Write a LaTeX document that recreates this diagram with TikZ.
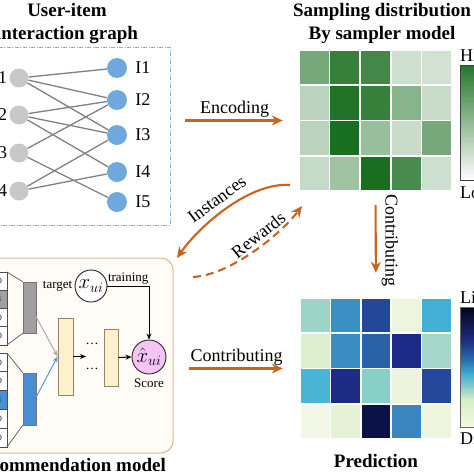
\documentclass[tikz,border=0pt]{standalone}
\usepackage{fontspec}
\setmainfont{Liberation Serif}
\usetikzlibrary{arrows.meta,positioning}
\definecolor{flow}{HTML}{C8641E}
\definecolor{usergray}{HTML}{C8C8C8}
\definecolor{itemblue}{HTML}{6FA8DC}
\definecolor{linkgray}{HTML}{808080}
\definecolor{framebl}{HTML}{8AAED0}
\definecolor{recline}{HTML}{E8B48C}
\definecolor{recfill}{HTML}{FFFCF8}
\definecolor{heatgreen}{HTML}{1A6E20}
\definecolor{layerfill}{HTML}{FDF0CD}
\definecolor{layerline}{HTML}{9A8460}
\definecolor{embgray}{HTML}{A0A0A0}
\definecolor{embblue}{HTML}{4A8FD6}
\definecolor{arrblue}{HTML}{5B9BD5}
\definecolor{scorepink}{HTML}{F5C4F5}
\definecolor{cbA}{HTML}{03061A}
\definecolor{cbB}{HTML}{1E2A80}
\definecolor{cbC}{HTML}{2570B0}
\definecolor{cbD}{HTML}{40B0D0}
\definecolor{cbE}{HTML}{D8EEC4}
\definecolor{cbF}{HTML}{F2F8E2}
\tikzset{
    title/.style={font=\bfseries\fontsize{19}{23}\selectfont, align=center, inner sep=1pt},
    lbl/.style={font=\fontsize{18}{20}\selectfont, inner sep=2pt},
    note/.style={font=\fontsize{13}{15}\selectfont, inner sep=1pt},
    digit/.style={font=\fontsize{8}{9}\selectfont, inner sep=0pt},
    user/.style={circle, fill=usergray, minimum size=19pt, inner sep=0pt},
    item/.style={circle, fill=itemblue, minimum size=20pt, inner sep=0pt},
    link/.style={draw=linkgray, line width=1.3pt},
    arrow/.style={-{Stealth[length=11pt,width=10pt]}, draw=flow, line width=2.1pt},
    thinarrow/.style={-{Stealth[length=6pt,width=5pt]}, line width=1pt},
    layer/.style={rectangle, draw=layerline, fill=layerfill, line width=0.8pt, inner sep=0pt},
    cell/.style={draw=black!70, line width=0.7pt},
    emb/.style={rectangle, draw=black!55, minimum width=13pt, inner sep=0pt},
    var/.style={circle, draw=black!85, line width=0.9pt, inner sep=0pt, font=\fontsize{20}{22}\selectfont}
}

\begin{document}
\begin{tikzpicture}[x=1pt, y=-1pt]
    \useasboundingbox (0,0) rectangle (474,474);

    % user-item graph
    \node[title] at (67,23.5) {User-item\\interaction graph};
    \node[draw=framebl, line width=0.8pt, dash pattern=on 4pt off 1.5pt on 1pt off 1.5pt,
        minimum width=175pt, minimum height=178pt] (graph) at (82.5,136) {};
    \foreach \n/\y in {1/78,2/115,3/153,4/191}{
        \node[user] (u\n) at (19,\y) {};
        \node[lbl, left=0pt of u\n] {U\n};
    }
    \foreach \n/\y in {1/68,2/100,3/135,4/172,5/202}{
        \node[item] (i\n) at (117,\y) {};
        \node[lbl, right=6pt of i\n] {I\n};
    }
    \foreach \u/\i in {1/1,1/2,1/3,2/2,2/3,2/4,3/2,3/5,4/3,4/4}
        \draw[link] (u\u) -- (i\i);

    % sampler heatmap
    \node[title] at (382,23.5) {Sampling distribution\\By sampler model};
    \node[minimum width=153pt, minimum height=141pt, inner sep=0pt] (samp) at (375.5,120.5) {};
    \foreach \v [count=\k from 0] in {60,88,82,22,20, 30,97,88,52,24, 30,100,45,24,60, 25,42,100,80,22}{
        \pgfmathtruncatemacro{\r}{int(\k/5)}
        \pgfmathtruncatemacro{\c}{\k-5*\r}
        \fill[heatgreen!\v!white] (299+30.6*\c+0.8, 50+35.25*\r+0.8) rectangle ++(29,33.65);
    }
    \shade[top color=heatgreen!95, bottom color=white] (460,65) rectangle (480,180);
    \draw[black!75, line width=0.9pt] (460,65) rectangle (480,180);
    \node[lbl, anchor=base west, inner sep=0pt] at (460,61) {High};
    \node[lbl, anchor=base west, inner sep=0pt] at (460,198) {Low};

    \draw[arrow, shorten <=15pt, shorten >=16pt] (graph.east |- samp.west) -- node[lbl, above] {Encoding} (samp.west);

    % recommendation model
    \node[draw=recline, fill=recfill, line width=1pt, rounded corners=12pt,
        minimum width=185pt, minimum height=195pt] (rec) at (80.5,355.5) {};
    \node[title, anchor=east] at (167,465) {Recommendation model};
    \foreach \k/\d/\f in {0/0/white,1/1/embgray,2/0/white,3/0/white}{
        \draw[cell, fill=\f] (-10,272+18.25*\k) rectangle (7,290.25+18.25*\k);
        \node[digit] at (0,281.1+18.25*\k) {\d};
    }
    \foreach \k/\d/\f in {0/0/white,1/0/white,2/1/embblue,3/0/white,4/0/white}{
        \draw[cell, fill=\f] (-10,353+18.8*\k) rectangle (7,371.8+18.8*\k);
        \node[digit] at (0,362.4+18.8*\k) {\d};
    }
    \node[emb, fill=embgray, minimum height=51pt] (gemb) at (29.5,307.5) {};
    \node[emb, fill=embblue, minimum height=52pt] (bemb) at (29.5,399) {};
    \draw[black!65, line width=0.7pt] (7,272) -- (gemb.north west) (7,345) -- (gemb.south west);
    \draw[black!65, line width=0.7pt] (7,353) -- (bemb.north west) (7,447) -- (bemb.south west);

    \node[layer, minimum width=15pt, minimum height=77pt] (h1) at (65.5,356.5) {};
    \node[layer, minimum width=14pt, minimum height=57pt] (h2) at (111,357.5) {};
    \draw[thinarrow, draw=embgray!90] ([yshift=-9.5pt]gemb.east) -- (h1.west);
    \draw[thinarrow, draw=arrblue] ([yshift=2pt]bemb.east) -- (h1.west);
    \coordinate (gap) at (86,356.5);
    \draw[thinarrow, black] (h1.east) -- (gap);
    \node[note] (dotsa) at (92,344) {\dots};
    \node[note] (dotsb) at (92,369) {\dots};

    \node[var, fill=scorepink, minimum size=34pt] (score) at (149,357) {$\hat{x}_{ui}$};
    \node[note, below=3pt of score] {Score};
    \node[var, fill=white, minimum size=32pt] (target) at (91,286) {$x_{ui}$};
    \node[note, left=1pt of target] {target};
    \draw[thinarrow, black] (h2.east) -- (score.west);
    \draw[thinarrow, black] (target.east) -| node[note, pos=0.25, above] {training} (score.north);

    % prediction heatmap
    \node[minimum width=152pt, minimum height=141pt, inner sep=0pt] (pred) at (376,368.5) {};
    \foreach \v [count=\k from 0] in {9DD4C8,3A8FC3,22489A,EEF5DF,45B0D5,
            DCEFCF,3A8DC1,2A62A8,1A2A86,A4D6C9,
            4AB4D5,1C2C84,88CFC8,ECF4DD,24489A,
            F3F8E6,E6F2D6,0B1346,3A84BF,EEF5DF}{
        \definecolor{tilec}{HTML}{\v}
        \pgfmathtruncatemacro{\r}{int(\k/5)}
        \pgfmathtruncatemacro{\c}{\k-5*\r}
        \fill[tilec] (300+30.4*\c+0.8, 298+35.25*\r+0.8) rectangle ++(28.8,33.65);
    }
    \shade[top color=cbA, bottom color=cbB] (460,307) rectangle (480,340);
    \shade[top color=cbB, bottom color=cbC] (460,339.7) rectangle (480,360);
    \shade[top color=cbC, bottom color=cbD] (460,359.7) rectangle (480,375);
    \shade[top color=cbD, bottom color=cbE] (460,374.7) rectangle (480,400);
    \shade[top color=cbE, bottom color=cbF] (460,399.7) rectangle (480,427);
    \draw[black!60, line width=0.9pt] (460,307) rectangle (480,427);
    \node[lbl, anchor=base west, inner sep=0pt] at (460,303) {Like};
    \node[lbl, anchor=base west, inner sep=0pt] at (460,444) {Dislike};
    \node[title, below=14pt of pred] {Prediction};

    % connectors between the parts
    \draw[arrow, shorten <=15pt, shorten >=17pt] (rec.east |- pred.west) -- node[lbl, above] {Contributing} (pred.west);
    \draw[arrow, shorten <=14pt, shorten >=25pt] (samp.south) -- node[lbl, pos=0.46, rotate=-90, anchor=south, inner sep=5pt] {Contributing} (pred.north);
    \coordinate (ins-a) at (290,185);
    \coordinate (ins-b) at (177,258);
    \draw[arrow] (ins-a) .. controls (250,182) and (200,225) .. node[lbl, pos=0.52, sloped, above, inner sep=6pt] {Instances} (ins-b);
    \coordinate (rew-a) at (193,277);
    \coordinate (rew-b) at (302,206);
    \draw[arrow, dash pattern=on 8pt off 5pt] (rew-a) .. controls (230,275) and (280,235) .. node[lbl, pos=0.6, sloped, above, inner sep=3pt] {Rewards} (rew-b);
\end{tikzpicture}
\end{document}
